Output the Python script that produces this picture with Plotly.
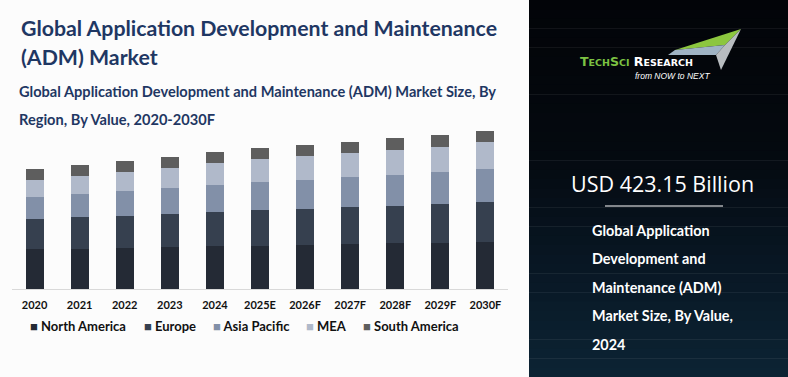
import plotly.graph_objects as go

W, H = 788, 377

years = ["2020", "2021", "2022", "2023", "2024", "2025E", "2026F", "2027F", "2028F", "2029F", "2030F"]
north_america = [123.6, 123.6, 126.7, 129.8, 132.8, 132.9, 136.0, 139.0, 142.1, 142.1, 145.2]
europe = [92.7, 98.9, 98.9, 102.0, 105.0, 111.2, 111.2, 114.3, 114.3, 120.5, 123.6]
asia_pacific = [68.0, 71.1, 77.3, 80.3, 83.4, 86.5, 89.6, 92.7, 95.8, 98.9, 102.0]
mea = [52.5, 56.5, 58.7, 61.8, 67.95, 71.1, 75.1, 74.2, 77.3, 78.2, 83.4]
south_america = [34.0, 34.0, 34.0, 34.0, 34.0, 34.0, 34.0, 34.9, 37.1, 37.1, 33.0]

series_names = ["North America", "Europe", "Asia Pacific", "MEA", "South America"]
series_values = [north_america, europe, asia_pacific, mea, south_america]
series_colors = ["#242a35", "#36404f", "#8290a8", "#b0b9ca", "#5e5e5e"]

title_lines = ["Global Application Development and Maintenance", "(ADM) Market"]
subtitle_lines = ["Global Application Development and Maintenance (ADM) Market Size, By",
                  "Region, By Value, 2020-2030F"]
headline = "USD 423.15 Billion"
side_lines = ["Global Application", "Development and", "Maintenance (ADM)",
              "Market Size, By Value,", "2024"]


def px(x):
    return x / W


def py(y):
    return 1 - y / H


fig = go.Figure()
for name, vals, col in zip(series_names, series_values, series_colors):
    fig.add_trace(go.Bar(x=years, y=vals, name=name, marker=dict(color=col, line=dict(width=0)),
                         showlegend=False))

FONT = "Lato"
NAVY = "#1f3763"

annotations = []
for i, t in enumerate(title_lines):
    annotations.append(dict(text=t, x=px(19), y=py(28 + 29 * i), xref="paper", yref="paper",
                            xanchor="left", yanchor="middle", showarrow=False,
                            font=dict(family=FONT, size=21.3, color=NAVY, weight=700)))
for i, t in enumerate(subtitle_lines):
    annotations.append(dict(text=t, x=px(17), y=py(91 + 28 * i), xref="paper", yref="paper",
                            xanchor="left", yanchor="middle", showarrow=False,
                            font=dict(family=FONT, size=14.6, color=NAVY, weight=700)))

# legend drawn as text entries
leg_x = [28, 142, 211, 304, 361]
for name, col, lx in zip(series_names, series_colors, leg_x):
    annotations.append(dict(text=f"<span style='color:{col}'>■</span> {name}", x=px(lx), y=py(326),
                            xref="paper", yref="paper", xanchor="left", yanchor="middle",
                            showarrow=False, font=dict(family=FONT, size=13, color="#111111", weight=700)))

# right panel texts
annotations.append(dict(text=headline, x=px(662), y=py(183), xref="paper", yref="paper",
                        xanchor="center", yanchor="middle", showarrow=False,
                        font=dict(family="Open Sans", size=21.5, color="white")))
for i, t in enumerate(side_lines):
    annotations.append(dict(text=t, x=px(590), y=py(230 + 28.6 * i), xref="paper", yref="paper",
                            xanchor="left", yanchor="middle", showarrow=False,
                            font=dict(family=FONT, size=14.4, color="white", weight=700)))

# logo text
annotations.append(dict(
    text="<span style='color:#7cc242'>T<span style='font-size:9.5px'>ECH</span>S<span style='font-size:9.5px'>CI</span></span>"
         " <span style='color:#ffffff'>R<span style='font-size:9.5px'>ESEARCH</span></span>",
    x=px(579), y=py(62), xref="paper", yref="paper", xanchor="left", yanchor="middle",
    showarrow=False, borderpad=0, font=dict(family="DejaVu Sans", size=12.5, weight=700)))
annotations.append(dict(text="<i>from NOW to NEXT</i>", x=px(711), y=py(76), xref="paper", yref="paper",
                        xanchor="right", yanchor="middle", showarrow=False, borderpad=0,
                        font=dict(family="Liberation Sans", size=8.5, color="white")))

shapes = []
# dark gradient panel
stops = [(0, (2, 4, 8)), (150, (4, 9, 15)), (260, (8, 22, 35)), (377, (12, 36, 52))]


def col_at(y):
    for (y0, c0), (y1, c1) in zip(stops[:-1], stops[1:]):
        if y0 <= y <= y1:
            f = (y - y0) / (y1 - y0)
            return "rgb(%d,%d,%d)" % tuple(round(a + (b - a) * f) for a, b in zip(c0, c1))
    return "rgb(12,36,52)"


N = 40
for k in range(N):
    y0 = H * k / N
    y1 = H * (k + 1) / N + 0.5
    shapes.append(dict(type="rect", xref="paper", yref="paper", x0=px(529), x1=1,
                       y0=py(y1), y1=py(y0), fillcolor=col_at((y0 + y1) / 2), line=dict(width=0),
                       layer="below"))


def poly(pts):
    return "M " + " L ".join(f"{px(a):.5f},{py(b):.5f}" for a, b in pts) + " Z"


shapes.append(dict(type="path", xref="paper", yref="paper", path=poly([(741, 29), (675, 50), (725, 45)]),
                   fillcolor="#8cc63f", line=dict(width=0)))
shapes.append(dict(type="path", xref="paper", yref="paper",
                   path=poly([(675, 50), (725, 45), (716, 55), (668, 55)]),
                   fillcolor="#9fb3c4", line=dict(width=0)))
shapes.append(dict(type="path", xref="paper", yref="paper",
                   path=poly([(741, 29), (725, 45), (716, 55), (721, 70)]),
                   fillcolor="#b8bcc0", line=dict(width=0)))
# underline in right panel
shapes.append(dict(type="line", xref="paper", yref="paper", x0=px(605), x1=px(723), y0=py(206), y1=py(206),
                   line=dict(color="white", width=1)))

fig.update_layout(
    width=W, height=H, margin=dict(l=0, r=0, t=0, b=0),
    paper_bgcolor="#fcfcfc", plot_bgcolor="#fcfcfc",
    barmode="stack", bargap=0.6,
    xaxis=dict(domain=[px(12), px(508)], showgrid=False, showline=True, linecolor="#d9d9d9",
               linewidth=1, ticks="", ticklabelstandoff=6, fixedrange=True,
               tickfont=dict(family=FONT, size=11, color="#111111", weight=700)),
    yaxis=dict(domain=[py(289), py(125)], range=[0, 506.8], visible=False, showgrid=False, fixedrange=True),
    annotations=annotations, shapes=shapes,
)

fig.write_html("out.html", config={"displayModeBar": False},
               post_script="document.body.style.margin='0';document.body.style.overflow='hidden';")
